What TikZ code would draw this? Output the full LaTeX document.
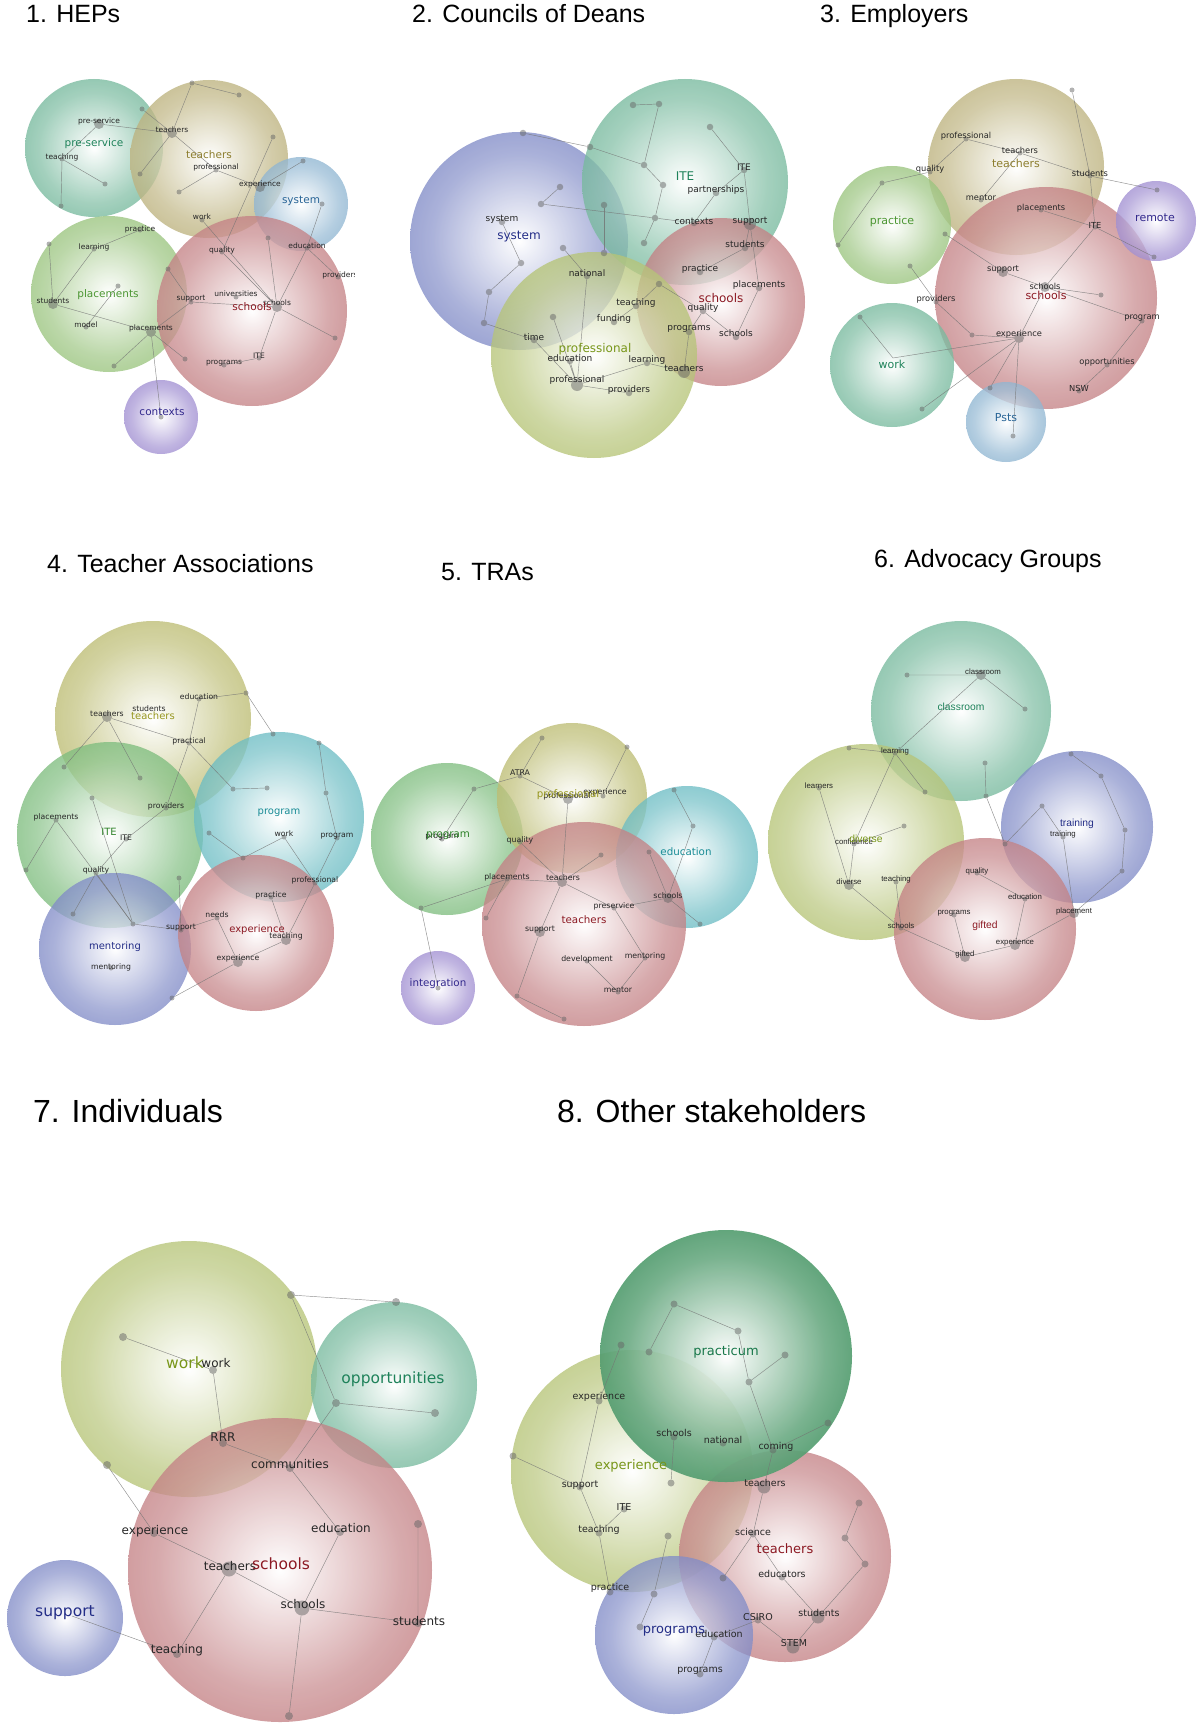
\documentclass[tikz,border=0pt]{standalone}
\usepackage{fontspec}
\setmainfont{DejaVu Sans}
\newfontfamily\titlefont{Liberation Sans}
\newfontfamily\arialfont{Liberation Sans}

% bubble and label colours
\definecolor{cTeal}{RGB}{60,155,115}   \definecolor{lTeal}{RGB}{30,130,90}
\definecolor{cTan}{RGB}{160,145,70}    \definecolor{lTan}{RGB}{140,125,45}
\definecolor{cSky}{RGB}{95,150,190}    \definecolor{lSky}{RGB}{40,100,150}
\definecolor{cRose}{RGB}{170,75,80}    \definecolor{lRose}{RGB}{140,25,35}
\definecolor{cLeaf}{RGB}{110,170,70}   \definecolor{lLeaf}{RGB}{75,150,50}
\definecolor{cLilac}{RGB}{120,95,190}  \definecolor{lLilac}{RGB}{50,40,140}
\definecolor{cNavy}{RGB}{75,90,175}    \definecolor{lNavy}{RGB}{35,45,135}
\definecolor{cOlive}{RGB}{150,170,60}  \definecolor{lOlive}{RGB}{120,150,25}
\definecolor{cKhaki}{RGB}{160,160,55}  \definecolor{lKhaki}{RGB}{150,150,30}
\definecolor{cGreen}{RGB}{70,160,70}   \definecolor{lGreen}{RGB}{45,130,40}
\definecolor{cCyan}{RGB}{45,160,170}   \definecolor{lCyan}{RGB}{25,140,150}
\definecolor{cForest}{RGB}{10,115,50}  \definecolor{lForest}{RGB}{25,120,75}

\colorlet{bubcol}{cTeal}
\pgfdeclareradialshading[bubcol]{bubble}{\pgfpoint{0bp}{0bp}}{color(0bp)=(white); color(3bp)=(bubcol!10!white); color(20bp)=(bubcol!60!white); color(35bp)=(bubcol!88!white); color(50bp)=(bubcol); color(100bp)=(bubcol)}

\begin{document}
\begin{tikzpicture}[x=1pt, y=-1pt,
  bub/.style={shading=bubble, fill opacity=0.78},
  bc/.code={\colorlet{bubcol}{#1}},
  dot/.style={circle, fill=black!60, fill opacity=0.5, inner sep=0pt, minimum size=5pt},
  big/.style={dot, minimum size=10pt},
  link/.style={draw=black!55, line width=0.45pt, draw opacity=0.8},
  ttl/.style={anchor=base west, inner sep=0pt, font=\titlefont\fontsize{25}{29}\selectfont},
  wrd/.style={inner sep=0pt, text=black!85},
  thm/.style={inner sep=0pt}]
\useasboundingbox (0,0) rectangle (1200,1731);

% 1. HEPs
\node[ttl] (t1) at (26,23) {1. HEPs};
\begin{scope}[wd/.style={wrd, font=\fontsize{7.5}{9}\selectfont}, tm/.style={thm, font=\fontsize{10.5}{12}\selectfont}]
  \clip (0,40) rectangle (354,470);
  \shade[bub, bc=cTeal] (94,148) circle[radius=69pt];
  \shade[bub, bc=cTan] (209,159) circle[radius=79pt];
  \shade[bub, bc=cSky] (301,204) circle[radius=47pt];
  \shade[bub, bc=cLeaf] (109,294) circle[radius=78pt];
  \shade[bub, bc=cRose] (252,311) circle[radius=95pt];
  \shade[bub, bc=cLilac] (161,417) circle[radius=37pt];
  \node[big] (apre) at (99,124) {};  \node[dot] (atch) at (62,159) {};
  \node[dot] (a3) at (105,184) {};   \node[dot] (a4) at (61,206) {};
  \node[dot] (a5) at (142,109) {};   \node[big] (atea) at (172,133) {};
  \node[dot] (a7) at (192,83) {};    \node[dot] (a8) at (239,95) {};
  \node[dot] (a9) at (140,174) {};   \node[dot] (apro) at (216,170) {};
  \node[dot] (a11) at (179,192) {};  \node[dot] (a12) at (273,137) {};
  \node[big] (aexp) at (260,187) {}; \node[dot] (a14) at (303,161) {};
  \node[dot] (a15) at (322,204) {};  \node[dot] (awrk) at (202,220) {};
  \node[dot] (aprc) at (140,230) {}; \node[dot] (alrn) at (94,249) {};
  \node[dot] (a19) at (49,244) {};   \node[dot] (aqua) at (222,252) {};
  \node[dot] (a21) at (268,238) {};  \node[dot] (aedu) at (307,248) {};
  \node[dot] (aprv) at (338,277) {}; \node[dot] (a24) at (168,269) {};
  \node[dot] (a25) at (118,286) {};  \node[big] (astu) at (53,304) {};
  \node[dot] (asup) at (191,302) {}; \node[dot] (auni) at (236,297) {};
  \node[big] (asch) at (277,307) {}; \node[dot] (amod) at (86,327) {};
  \node[big] (apla) at (151,332) {}; \node[dot] (a32) at (335,338) {};
  \node[dot] (a33) at (185,359) {};  \node[dot] (a34) at (114,366) {};
  \node[dot] (aite) at (259,358) {}; \node[dot] (aprg) at (224,365) {};
  \node[dot] (acon) at (161,417) {};
  \draw[link] (a5) -- (atea) -- (apre) -- (atch) -- (a3);
  \draw[link] (atch) -- (a4);
  \draw[link] (a8) -- (a7) -- (atea) -- (a9);
  \draw[link] (atea) -- (apro) -- (a11);
  \draw[link] (apro) -- (aexp) -- (a14);
  \draw[link] (a12) -- (aqua) -- (asch) -- (awrk);
  \draw[link] (a15) -- (aedu) -- (asch) -- (a21);
  \draw[link] (aedu) -- (aprv);
  \draw[link] (a32) -- (asch) -- (aite) -- (aprg);
  \draw[link] (asch) -- (asup) -- (apla) -- (acon);
  \draw[link] (a24) -- (asup);
  \draw[link] (a33) -- (apla) -- (a34);
  \draw[link] (apla) -- (astu) -- (a19);
  \draw[link] (astu) -- (alrn) -- (aprc);
  \draw[link] (amod) -- (a25);
  \node[wd] (aprew) at (99,121) {pre-service};
  \node[wd] (atchw) at (62,157) {teaching};
  \node[wd] (ateaw) at (172,130) {teachers};
  \node[wd] (aprow) at (216,167) {professional};
  \node[wd] (aexpw) at (260,184) {experience};
  \node[wd] (awrkw) at (202,217) {work};
  \node[wd] (aprcw) at (140,229) {practice};
  \node[wd] (alrnw) at (94,247) {learning};
  \node[wd] (aquaw) at (222,250) {quality};
  \node[wd] (aeduw) at (307,246) {education};
  \node[wd] (aprvw) at (340,275) {providers};
  \node[wd] (astuw) at (53,301) {students};
  \node[wd] (asupw) at (191,299) {support};
  \node[wd] (auniw) at (236,294) {universities};
  \node[wd] (aschw) at (277,303) {schools};
  \node[wd] (amodw) at (86,325) {model};
  \node[wd] (aplaw) at (151,328) {placements};
  \node[wd] (aitew) at (259,356) {ITE};
  \node[wd] (aprgw) at (224,363) {programs};
  \node[tm, text=lTeal] (aPre) at (94,144) {pre-service};
  \node[tm, text=lTan] (aTea) at (209,155) {teachers};
  \node[tm, text=lSky] (aSys) at (301,201) {system};
  \node[tm, text=lLeaf] (aPla) at (108,295) {placements};
  \node[tm, text=lRose] (aSch) at (252,307) {schools};
  \node[tm, text=lLilac] (aCon) at (162,412) {contexts};
\end{scope}

% 2. Councils of Deans
\node[ttl] (t2) at (412,23) {2. Councils of Deans};
\begin{scope}[wd/.style={wrd, font=\fontsize{9}{10}\selectfont}, tm/.style={thm, font=\fontsize{12}{14}\selectfont}, dot/.append style={minimum size=6.5pt}, big/.append style={minimum size=12pt}]
  \shade[bub, bc=cNavy] (519,241) circle[radius=109pt];
  \shade[bub, bc=cTeal] (685,182) circle[radius=103pt];
  \shade[bub, bc=cRose] (721,302) circle[radius=84pt];
  \shade[bub, bc=cOlive] (594,355) circle[radius=103pt];
  \node[dot] (b1) at (633,105) {};   \node[dot] (b2) at (659,104) {};
  \node[dot] (b3) at (710,127) {};   \node[dot] (b4) at (523,133) {};
  \node[dot] (b5) at (590,147) {};   \node[dot] (b6) at (644,165) {};
  \node[dot] (bite) at (744,170) {}; \node[dot] (b7) at (663,185) {};
  \node[dot] (b8) at (560,187) {};   \node[dot] (bpar) at (716,193) {};
  \node[dot] (b9) at (541,204) {};   \node[dot] (b10) at (604,205) {};
  \node[dot] (b11) at (655,218) {};  \node[dot] (bcon) at (694,223) {};
  \node[big] (bsup) at (750,224) {}; \node[dot] (bsys) at (502,222) {};
  \node[dot] (b12) at (644,243) {};  \node[dot] (bstu) at (745,248) {};
  \node[dot] (b13) at (563,248) {};  \node[dot] (b14) at (604,253) {};
  \node[dot] (b15) at (521,263) {};  \node[dot] (bprc) at (700,272) {};
  \node[dot] (bnat) at (587,276) {}; \node[dot] (b16) at (659,284) {};
  \node[dot] (bpla) at (759,288) {}; \node[dot] (b17) at (489,292) {};
  \node[dot] (btch) at (636,306) {}; \node[dot] (bqua) at (703,311) {};
  \node[dot] (b18) at (553,317) {};  \node[dot] (bfun) at (614,322) {};
  \node[dot] (b19) at (484,323) {};  \node[dot] (bprg) at (689,332) {};
  \node[dot] (bsch) at (736,337) {}; \node[dot] (btim) at (534,340) {};
  \node[dot] (bedu) at (570,361) {}; \node[dot] (blrn) at (647,363) {};
  \node[big] (btea) at (684,372) {}; \node[big] (bpro) at (577,385) {};
  \node[dot] (bprv) at (629,393) {};
  \draw[link] (b1) -- (b2) -- (b6) -- (b7) -- (b11) -- (b12);
  \draw[link] (b4) -- (b5) -- (b6);
  \draw[link] (b3) -- (bite) -- (bsup) -- (bstu) -- (bprc);
  \draw[link] (bcon) -- (bpar) -- (bite);
  \draw[link] (b8) -- (b9) -- (b11) -- (bcon);
  \draw[link] (b10) -- (b14);
  \draw[link] (bsys) -- (b15) -- (b17) -- (b19) -- (btim) -- (bpro);
  \draw[link] (bsup) -- (bpla) -- (bsch);
  \draw[link] (b13) -- (bnat) -- (bpro) -- (bprv);
  \draw[link] (b18) -- (bpro) -- (bedu);
  \draw[link] (bpro) -- (blrn) -- (btea);
  \draw[link] (bfun) -- (btch) -- (b16) -- (bqua) -- (bsch);
  \draw[link] (bqua) -- (bprg) -- (btea);
  \node[wd] (bitew) at (744,167) {ITE};
  \node[wd] (bparw) at (716,190) {partnerships};
  \node[wd] (bconw) at (694,221) {contexts};
  \node[wd] (bsupw) at (750,221) {support};
  \node[wd] (bsysw) at (502,219) {system};
  \node[wd] (bstuw) at (745,244) {students};
  \node[wd] (bprcw) at (700,269) {practice};
  \node[wd] (bnatw) at (587,273) {national};
  \node[wd] (bplaw) at (759,285) {placements};
  \node[wd] (btchw) at (636,303) {teaching};
  \node[wd] (bquaw) at (703,308) {quality};
  \node[wd] (bfunw) at (614,319) {funding};
  \node[wd] (bprgw) at (689,329) {programs};
  \node[wd] (bschw) at (736,333) {schools};
  \node[wd] (btimw) at (534,337) {time};
  \node[wd] (beduw) at (570,358) {education};
  \node[wd] (blrnw) at (647,360) {learning};
  \node[wd] (bteaw) at (684,368) {teachers};
  \node[wd] (bprow) at (577,380) {professional};
  \node[wd] (bprvw) at (629,390) {providers};
  \node[tm, text=lNavy] (bSys) at (519,237) {system};
  \node[tm, text=lTeal] (bIte) at (685,176) {ITE};
  \node[tm, text=lRose] (bSch) at (721,298) {schools};
  \node[tm, text=lOlive] (bPro) at (595,349) {professional};
\end{scope}

% 3. Employers
\node[ttl] (t3) at (820,23) {3. Employers};
\begin{scope}[wd/.style={wrd, font=\fontsize{8.3}{10}\selectfont}, tm/.style={thm, font=\fontsize{11}{13}\selectfont}]
  \shade[bub, bc=cTan] (1016,167) circle[radius=88pt];
  \shade[bub, bc=cLeaf] (892,225) circle[radius=59pt];
  \shade[bub, bc=cRose] (1046,298) circle[radius=111pt];
  \shade[bub, bc=cLilac] (1156,221) circle[radius=40pt];
  \shade[bub, bc=cTeal] (892,365) circle[radius=62pt];
  \shade[bub, bc=cSky] (1006,422) circle[radius=40pt];
  \node[dot] (c1) at (1072,90) {};    \node[dot] (cpro) at (966,139) {};
  \node[dot] (ctea) at (1020,153) {}; \node[dot] (cqua) at (930,172) {};
  \node[dot] (cstu) at (1090,176) {}; \node[dot] (c2) at (882,183) {};
  \node[dot] (c3) at (1157,190) {};   \node[dot] (cmen) at (981,200) {};
  \node[dot] (cpla) at (1041,210) {}; \node[dot] (cite) at (1095,227) {};
  \node[dot] (c4) at (945,234) {};    \node[dot] (c5) at (838,245) {};
  \node[dot] (c6) at (1154,257) {};   \node[dot] (c7) at (910,266) {};
  \node[big] (csup) at (1003,272) {}; \node[big] (csch) at (1045,287) {};
  \node[dot] (c8) at (1101,295) {};   \node[dot] (cprv) at (936,302) {};
  \node[dot] (c9) at (860,317) {};    \node[dot] (cprg) at (1142,321) {};
  \node[dot] (c10) at (972,335) {};   \node[big] (cexp) at (1019,338) {};
  \node[dot] (copp) at (1107,365) {}; \node[dot] (cnsw) at (1079,391) {};
  \node[dot] (c11) at (990,388) {};   \node[dot] (c12) at (922,409) {};
  \node[dot] (c13) at (1013,436) {};
  \coordinate (cwk) at (893,358);
  \draw[link] (c1) -- (cstu) -- (cite);
  \draw[link] (cpro) -- (ctea) -- (cstu) -- (c3);
  \draw[link] (cpro) -- (cqua) -- (c2) -- (c5);
  \draw[link] (ctea) -- (cmen);
  \draw[link] (cpla) -- (cite) -- (c6);
  \draw[link] (cite) -- (csch) -- (cexp);
  \draw[link] (c4) -- (csup) -- (csch) -- (c8);
  \draw[link] (csch) -- (cprg) -- (copp) -- (cnsw);
  \draw[link] (c7) -- (cprv) -- (c10) -- (cexp) -- (cwk) -- (c9);
  \draw[link] (c12) -- (cexp) -- (c11);
  \draw[link] (cexp) -- (c13);
  \node[wd] (cprow) at (966,136) {professional};
  \node[wd] (cteaw) at (1020,150) {teachers};
  \node[wd] (cquaw) at (930,169) {quality};
  \node[wd] (cstuw) at (1090,173) {students};
  \node[wd] (cmenw) at (981,198) {mentor};
  \node[wd] (cplaw) at (1041,208) {placements};
  \node[wd] (citew) at (1095,225) {ITE};
  \node[wd] (csupw) at (1003,269) {support};
  \node[wd] (cschw) at (1045,286) {schools};
  \node[wd] (cprvw) at (936,299) {providers};
  \node[wd] (cprgw) at (1142,318) {program};
  \node[wd] (cexpw) at (1019,334) {experience};
  \node[wd] (coppw) at (1107,362) {opportunities};
  \node[wd] (cnsww) at (1079,388) {NSW};
  \node[tm, text=lTan] (cTea) at (1016,163) {teachers};
  \node[tm, text=lLeaf] (cPrc) at (892,221) {practice};
  \node[tm, text=lRose] (cSch) at (1046,295) {schools};
  \node[tm, text=lLilac] (cRem) at (1155,218) {remote};
  \node[tm, text=lTeal] (cWrk) at (892,364) {work};
  \node[tm, text=lSky] (cPst) at (1006,418) {Psts};
\end{scope}

% 4. Teacher Associations
\node[ttl] (t4) at (47,572) {4. Teacher Associations};
\begin{scope}[wd/.style={wrd, font=\fontsize{7.7}{9}\selectfont}, tm/.style={thm, font=\fontsize{10}{12}\selectfont}]
  \shade[bub, bc=cKhaki] (153,719) circle[radius=98pt];
  \shade[bub, bc=cGreen] (110,835) circle[radius=93pt];
  \shade[bub, bc=cCyan] (279,817) circle[radius=85pt];
  \shade[bub, bc=cNavy] (115,949) circle[radius=76pt];
  \shade[bub, bc=cRose] (256,933) circle[radius=78pt];
  \node[dot] (d1) at (246,693) {};    \node[dot] (dedu) at (199,699) {};
  \node[big] (dtea) at (107,717) {};  \node[dot] (d2) at (273,734) {};
  \node[dot] (dpcl) at (189,743) {};  \node[dot] (d3) at (319,743) {};
  \node[dot] (d4) at (64,767) {};     \node[dot] (d5) at (140,778) {};
  \node[dot] (d6) at (233,789) {};    \node[dot] (d7) at (267,788) {};
  \node[dot] (d8) at (92,798) {};     \node[dot] (d9) at (326,793) {};
  \node[dot] (dprv) at (166,808) {};  \node[dot] (dpla) at (56,820) {};
  \node[dot] (dite) at (126,839) {};  \node[dot] (d10) at (209,833) {};
  \node[dot] (dwrk) at (284,837) {};  \node[dot] (dprg) at (337,838) {};
  \node[dot] (d11) at (243,858) {};   \node[dot] (d12) at (26,870) {};
  \node[dot] (dqua) at (96,873) {};   \node[dot] (d13) at (179,878) {};
  \node[dot] (dpro) at (315,883) {};  \node[dot] (dprc) at (271,897) {};
  \node[dot] (d14) at (73,914) {};    \node[dot] (dnee) at (217,918) {};
  \node[dot] (d15) at (133,924) {};   \node[dot] (dsup) at (181,930) {};
  \node[big] (dtch) at (286,940) {};  \node[big] (dexp) at (238,962) {};
  \node[dot] (dmen) at (111,968) {};  \node[dot] (d16) at (172,998) {};
  \draw[link] (dedu) -- (d1) -- (d2);
  \draw[link] (dedu) -- (dpcl) -- (dprv) -- (dite) -- (dqua) -- (d14);
  \draw[link] (dtea) -- (dpcl) -- (d6) -- (d7);
  \draw[link] (d4) -- (dtea) -- (d5);
  \draw[link] (d8) -- (d15);
  \draw[link] (d12) -- (dpla) -- (d15);
  \draw[link] (dqua) -- (d15) -- (dsup) -- (dnee) -- (dexp);
  \draw[link] (d13) -- (dsup);
  \draw[link] (d16) -- (dexp) -- (dtch) -- (dprc);
  \draw[link] (d10) -- (d11) -- (dwrk) -- (dpro);
  \draw[link] (d3) -- (d9) -- (dprg) -- (dpro) -- (dtch);
  \node[wd] (deduw) at (199,697) {education};
  \node[wd] (dstuw) at (149,709) {students};
  \node[wd] (dteaw) at (107,714) {teachers};
  \node[wd] (dpclw) at (189,741) {practical};
  \node[wd] (dprvw) at (166,806) {providers};
  \node[wd] (dplaw) at (56,817) {placements};
  \node[wd] (ditew) at (126,838) {ITE};
  \node[wd] (dwrkw) at (284,834) {work};
  \node[wd] (dprgw) at (337,836) {program};
  \node[wd] (dquaw) at (96,870) {quality};
  \node[wd] (dprow) at (315,880) {professional};
  \node[wd] (dprcw) at (271,895) {practice};
  \node[wd] (dneew) at (217,915) {needs};
  \node[wd] (dsupw) at (181,928) {support};
  \node[wd] (dtchw) at (286,936) {teaching};
  \node[wd] (dexpw) at (238,958) {experience};
  \node[wd] (dmenw) at (111,967) {mentoring};
  \node[tm, text=lKhaki] (dTea) at (153,716) {teachers};
  \node[tm, text=lGreen] (dIte) at (109,832) {ITE};
  \node[tm, text=lCyan] (dPrg) at (279,813) {program};
  \node[tm, text=lNavy] (dMen) at (115,947) {mentoring};
  \node[tm, text=lRose] (dExp) at (257,930) {experience};
\end{scope}

% 5. TRAs
\node[ttl] (t5) at (441,580) {5. TRAs};
\begin{scope}[wd/.style={wrd, font=\fontsize{7.8}{9}\selectfont}, tm/.style={thm, font=\fontsize{10.3}{12}\selectfont}]
  \shade[bub, bc=cGreen] (447,839) circle[radius=76pt];
  \shade[bub, bc=cKhaki] (572,798) circle[radius=75pt];
  \shade[bub, bc=cCyan] (687,857) circle[radius=71pt];
  \shade[bub, bc=cRose] (584,924) circle[radius=102pt];
  \shade[bub, bc=cLilac] (438,988) circle[radius=37pt];
  \node[dot] (e1) at (542,738) {};    \node[dot] (e2) at (627,747) {};
  \node[dot] (eatr) at (520,776) {};  \node[dot] (e3) at (474,789) {};
  \node[big] (epro) at (568,799) {};  \node[dot] (eexp) at (603,796) {};
  \node[dot] (e4) at (674,790) {};    \node[dot] (e5) at (693,826) {};
  \node[dot] (eprg) at (442,839) {};  \node[dot] (equa) at (520,842) {};
  \node[dot] (e6) at (601,855) {};    \node[dot] (e7) at (649,852) {};
  \node[dot] (epla) at (507,879) {};  \node[big] (etea) at (562,882) {};
  \node[big] (esch) at (668,898) {};  \node[dot] (epre) at (614,908) {};
  \node[dot] (e8) at (421,908) {};    \node[dot] (e9) at (700,924) {};
  \node[dot] (e10) at (486,918) {};   \node[big] (esup) at (540,932) {};
  \node[dot] (edev) at (587,961) {};  \node[dot] (emen) at (645,958) {};
  \node[dot] (emtr) at (618,992) {};  \node[dot] (e11) at (517,996) {};
  \node[dot] (e12) at (564,1019) {};  \node[dot] (eint) at (438,988) {};
  \draw[link] (e1) -- (eatr) -- (e3) -- (eprg);
  \draw[link] (eatr) -- (epro) -- (etea);
  \draw[link] (e2) -- (eexp);
  \draw[link] (equa) -- (etea) -- (e6);
  \draw[link] (e8) -- (epla) -- (etea);
  \draw[link] (e8) -- (eint);
  \draw[link] (epla) -- (e10);
  \draw[link] (etea) -- (epre) -- (esch);
  \draw[link] (epre) -- (emen) -- (emtr) -- (edev);
  \draw[link] (e4) -- (e5) -- (esch);
  \draw[link] (e7) -- (esch) -- (e9);
  \draw[link] (etea) -- (esup) -- (e11) -- (e12);
  \node[wd] (eatrw) at (520,773) {ATRA};
  \node[wd] (eprow) at (567,796) {professional};
  \node[wd] (eexpw) at (605,792) {experience};
  \node[wd] (eprgw) at (442,837) {program};
  \node[wd] (equaw) at (520,840) {quality};
  \node[wd] (eplaw) at (507,877) {placements};
  \node[wd] (eteaw) at (563,878) {teachers};
  \node[wd] (eschw) at (668,896) {schools};
  \node[wd] (eprew) at (614,906) {preservice};
  \node[wd] (esupw) at (540,930) {support};
  \node[wd] (edevw) at (587,959) {development};
  \node[wd] (emenw) at (645,956) {mentoring};
  \node[wd] (emtrw) at (618,990) {mentor};
  \node[tm, text=lGreen] (ePrg) at (448,836) {program};
  \node[tm, text=lKhaki] (ePro) at (568,795) {professional};
  \node[tm, text=lCyan] (eEdu) at (686,852) {education};
  \node[tm, text=lRose] (eTea) at (584,920) {teachers};
  \node[tm, text=lLilac] (eInt) at (438,984) {integration};
\end{scope}

% 6. Advocacy Groups
\node[ttl] (t6) at (874,567) {6. Advocacy Groups};
\begin{scope}[wd/.style={wrd, font=\arialfont\fontsize{7.8}{9}\selectfont}, tm/.style={thm, font=\arialfont\fontsize{10.3}{12}\selectfont}]
  \shade[bub, bc=cTeal] (961,711) circle[radius=90pt];
  \shade[bub, bc=cOlive] (866,842) circle[radius=98pt];
  \shade[bub, bc=cNavy] (1077,827) circle[radius=76pt];
  \shade[bub, bc=cRose] (985,929) circle[radius=91pt];
  \node[dot] (f1) at (907,675) {};    \node[big] (fcls) at (981,675) {};
  \node[dot] (f2) at (1025,709) {};   \node[dot] (f3) at (849,748) {};
  \node[dot] (flrn) at (895,753) {};  \node[dot] (f4) at (1071,754) {};
  \node[dot] (f5) at (985,763) {};    \node[dot] (f6) at (1101,776) {};
  \node[dot] (flrs) at (819,788) {};  \node[dot] (f7) at (925,792) {};
  \node[dot] (f8) at (986,796) {};    \node[dot] (f9) at (1042,806) {};
  \node[dot] (f10) at (904,826) {};   \node[dot] (fcon) at (854,844) {};
  \node[dot] (ftrn) at (1063,837) {}; \node[dot] (f11) at (1125,830) {};
  \node[dot] (f12) at (1005,844) {};  \node[dot] (f13) at (1122,871) {};
  \node[dot] (fqua) at (977,873) {};  \node[big] (fdiv) at (849,885) {};
  \node[dot] (ftch) at (896,882) {};  \node[dot] (fedu) at (1025,899) {};
  \node[big] (fpla) at (1074,913) {}; \node[dot] (fprg) at (954,915) {};
  \node[dot] (fsch) at (901,928) {};  \node[big] (fexp) at (1015,945) {};
  \node[big] (fgif) at (965,957) {};
  \draw[link] (f1) -- (fcls) -- (f2);
  \draw[link] (fcls) -- (flrn) -- (f3);
  \draw[link] (flrn) -- (f7);
  \draw[link] (flrn) -- (fcon) -- (f10);
  \draw[link] (flrs) -- (fdiv) -- (fcon);
  \draw[link] (fdiv) -- (fsch) -- (ftch);
  \draw[link] (fsch) -- (fgif) -- (fprg);
  \draw[link] (fgif) -- (fexp) -- (fpla);
  \draw[link] (fexp) -- (fedu) -- (fqua);
  \draw[link] (f5) -- (f8) -- (f12) -- (f9) -- (ftrn) -- (fpla);
  \draw[link] (f4) -- (f6) -- (f11) -- (f13) -- (fpla);
  \node[wd] (fclsw) at (983,672) {classroom};
  \node[wd] (flrnw) at (895,751) {learning};
  \node[wd] (flrsw) at (819,786) {learners};
  \node[wd] (fconw) at (854,842) {confidence};
  \node[wd] (ftrnw) at (1063,834) {training};
  \node[wd] (fquaw) at (977,871) {quality};
  \node[wd] (fdivw) at (849,882) {diverse};
  \node[wd] (ftchw) at (896,879) {teaching};
  \node[wd] (feduw) at (1025,897) {education};
  \node[wd] (fplaw) at (1074,911) {placement};
  \node[wd] (fprgw) at (954,913) {programs};
  \node[wd] (fschw) at (901,926) {schools};
  \node[wd] (fexpw) at (1015,942) {experience};
  \node[wd] (fgifw) at (965,954) {gifted};
  \node[tm, text=lTeal] (fCls) at (961,707) {classroom};
  \node[tm, text=lOlive] (fDiv) at (866,839) {diverse};
  \node[tm, text=lNavy] (fTrn) at (1077,824) {training};
  \node[tm, text=lRose] (fGif) at (985,926) {gifted};
\end{scope}

% 7. Individuals
\node[ttl, font=\titlefont\fontsize{32}{37}\selectfont] (t7) at (33,1122) {7. Individuals};
\begin{scope}[wd/.style={wrd, font=\fontsize{12}{14}\selectfont}, tm/.style={thm, font=\fontsize{15.5}{18}\selectfont}, dot/.append style={minimum size=8pt}, big/.append style={minimum size=15pt}]
  \shade[bub, bc=cOlive] (189,1369) circle[radius=128pt];
  \shade[bub, bc=cTeal] (394,1385) circle[radius=83pt];
  \shade[bub, bc=cRose] (280,1570) circle[radius=152pt];
  \shade[bub, bc=cNavy] (65,1618) circle[radius=58pt];
  \node[dot] (g1) at (291,1295) {};   \node[dot] (g2) at (396,1302) {};
  \node[dot] (g3) at (123,1337) {};   \node[dot] (gwrk) at (213,1370) {};
  \node[dot] (g4) at (336,1403) {};   \node[dot] (g5) at (435,1413) {};
  \node[dot] (grrr) at (223,1443) {}; \node[dot] (g6) at (107,1465) {};
  \node[dot] (gcom) at (290,1468) {}; \node[dot] (gexp) at (154,1533) {};
  \node[dot] (gedu) at (340,1532) {}; \node[dot] (g7) at (418,1524) {};
  \node[big] (gtea) at (229,1569) {}; \node[big] (gsch) at (302,1608) {};
  \node[dot] (gstu) at (418,1623) {}; \node[dot] (gtch) at (177,1654) {};
  \node[dot] (g8) at (289,1716) {};
  \coordinate (gsp) at (72,1616);
  \draw[link] (g3) -- (gwrk) -- (grrr) -- (gcom) -- (g4) -- (g1) -- (g2);
  \draw[link] (g4) -- (g5);
  \draw[link] (gcom) -- (gedu) -- (gsch);
  \draw[link] (g6) -- (gexp) -- (gtea) -- (gsch) -- (gstu) -- (g7);
  \draw[link] (gtea) -- (gtch) -- (gsp);
  \draw[link] (gsch) -- (g8);
  \node[wd] (gwrkw) at (216,1363) {work};
  \node[wd] (grrrw) at (223,1437) {RRR};
  \node[wd] (gcomw) at (290,1464) {communities};
  \node[wd] (gexpw) at (155,1531) {experience};
  \node[wd] (geduw) at (341,1528) {education};
  \node[wd] (gteaw) at (230,1566) {teachers};
  \node[wd] (gschw) at (303,1604) {schools};
  \node[wd] (gstuw) at (419,1621) {students};
  \node[wd] (gtchw) at (177,1650) {teaching};
  \node[tm, text=lOlive] (gWrk) at (185,1363) {work};
  \node[tm, text=lTeal] (gOpp) at (393,1379) {opportunities};
  \node[tm, text=lRose] (gSch) at (281,1564) {schools};
  \node[tm, text=lNavy] (gSup) at (65,1613) {support};
\end{scope}

% 8. Other stakeholders
\node[ttl, font=\titlefont\fontsize{32}{37}\selectfont] (t8) at (557,1122) {8. Other stakeholders};
\begin{scope}[wd/.style={wrd, font=\fontsize{9.5}{11}\selectfont}, tm/.style={thm, font=\fontsize{13}{15}\selectfont}, dot/.append style={minimum size=7pt}, big/.append style={minimum size=13pt}]
  \shade[bub, bc=cOlive] (632,1471) circle[radius=121pt];
  \shade[bub, bc=cRose] (785,1556) circle[radius=106pt];
  \shade[bub, bc=cNavy] (674,1635) circle[radius=79pt];
  \shade[bub, bc=cForest, fill opacity=0.92] (726,1356) circle[radius=126pt];
  \node[dot] (h1) at (674,1304) {};   \node[dot] (h2) at (738,1331) {};
  \node[dot] (h3) at (621,1345) {};   \node[dot] (h4) at (649,1352) {};
  \node[dot] (h5) at (785,1355) {};   \node[dot] (h6) at (749,1382) {};
  \node[dot] (hexp) at (599,1401) {}; \node[dot] (h7) at (828,1423) {};
  \node[dot] (hsch) at (674,1437) {}; \node[dot] (hnat) at (723,1443) {};
  \node[dot] (hcom) at (773,1450) {}; \node[dot] (h8) at (513,1456) {};
  \node[dot] (h9) at (671,1483) {};   \node[big] (htea) at (764,1487) {};
  \node[dot] (hsup) at (580,1487) {}; \node[dot] (hite) at (624,1509) {};
  \node[dot] (h10) at (859,1503) {};  \node[dot] (htch) at (599,1533) {};
  \node[dot] (hsci) at (753,1534) {}; \node[dot] (h11) at (668,1536) {};
  \node[dot] (h12) at (845,1538) {};  \node[dot] (h13) at (865,1564) {};
  \node[dot] (hedu) at (782,1577) {}; \node[dot] (h14) at (723,1578) {};
  \node[dot] (hprc) at (610,1592) {}; \node[dot] (h15) at (654,1594) {};
  \node[dot] (hcsi) at (758,1620) {}; \node[big] (hstu) at (818,1617) {};
  \node[dot] (h16) at (640,1627) {};  \node[dot] (hed2) at (714,1637) {};
  \node[big] (hstm) at (793,1647) {}; \node[dot] (hprg) at (700,1674) {};
  \draw[link] (h4) -- (h1) -- (h2) -- (h6) -- (h5);
  \draw[link] (h3) -- (hexp) -- (hsup) -- (htch) -- (hprc);
  \draw[link] (h6) -- (hcom) -- (h7);
  \draw[link] (hcom) -- (htea) -- (hsci) -- (h14);
  \draw[link] (h8) -- (hsup);
  \draw[link] (hsch) -- (h9);
  \draw[link] (hite) -- (htch);
  \draw[link] (h11) -- (h15) -- (h16);
  \draw[link] (hsci) -- (hedu) -- (hstu);
  \draw[link] (h10) -- (h12) -- (h13) -- (hstu) -- (hstm) -- (hcsi) -- (hed2) -- (hprg);
  \node[wd] (hexpw) at (599,1397) {experience};
  \node[wd] (hschw) at (674,1433) {schools};
  \node[wd] (hnatw) at (723,1440) {national};
  \node[wd] (hcomw) at (776,1447) {coming};
  \node[wd] (hteaw) at (765,1483) {teachers};
  \node[wd] (hsupw) at (580,1485) {support};
  \node[wd] (hitew) at (624,1507) {ITE};
  \node[wd] (htchw) at (599,1530) {teaching};
  \node[wd] (hsciw) at (753,1532) {science};
  \node[wd] (heduw) at (782,1574) {educators};
  \node[wd] (hprcw) at (610,1588) {practice};
  \node[wd] (hcsiw) at (758,1617) {CSIRO};
  \node[wd] (hstuw) at (819,1613) {students};
  \node[wd] (hed2w) at (719,1634) {education};
  \node[wd] (hstmw) at (794,1643) {STEM};
  \node[wd] (hprgw) at (700,1671) {programs};
  \node[tm, text=lForest] (hPrc) at (726,1352) {practicum};
  \node[tm, text=lOlive] (hExp) at (631,1466) {experience};
  \node[tm, text=lRose] (hTea) at (785,1549) {teachers};
  \node[tm, text=lNavy] (hPrg) at (674,1631) {programs};
\end{scope}
\end{tikzpicture}
\end{document}
